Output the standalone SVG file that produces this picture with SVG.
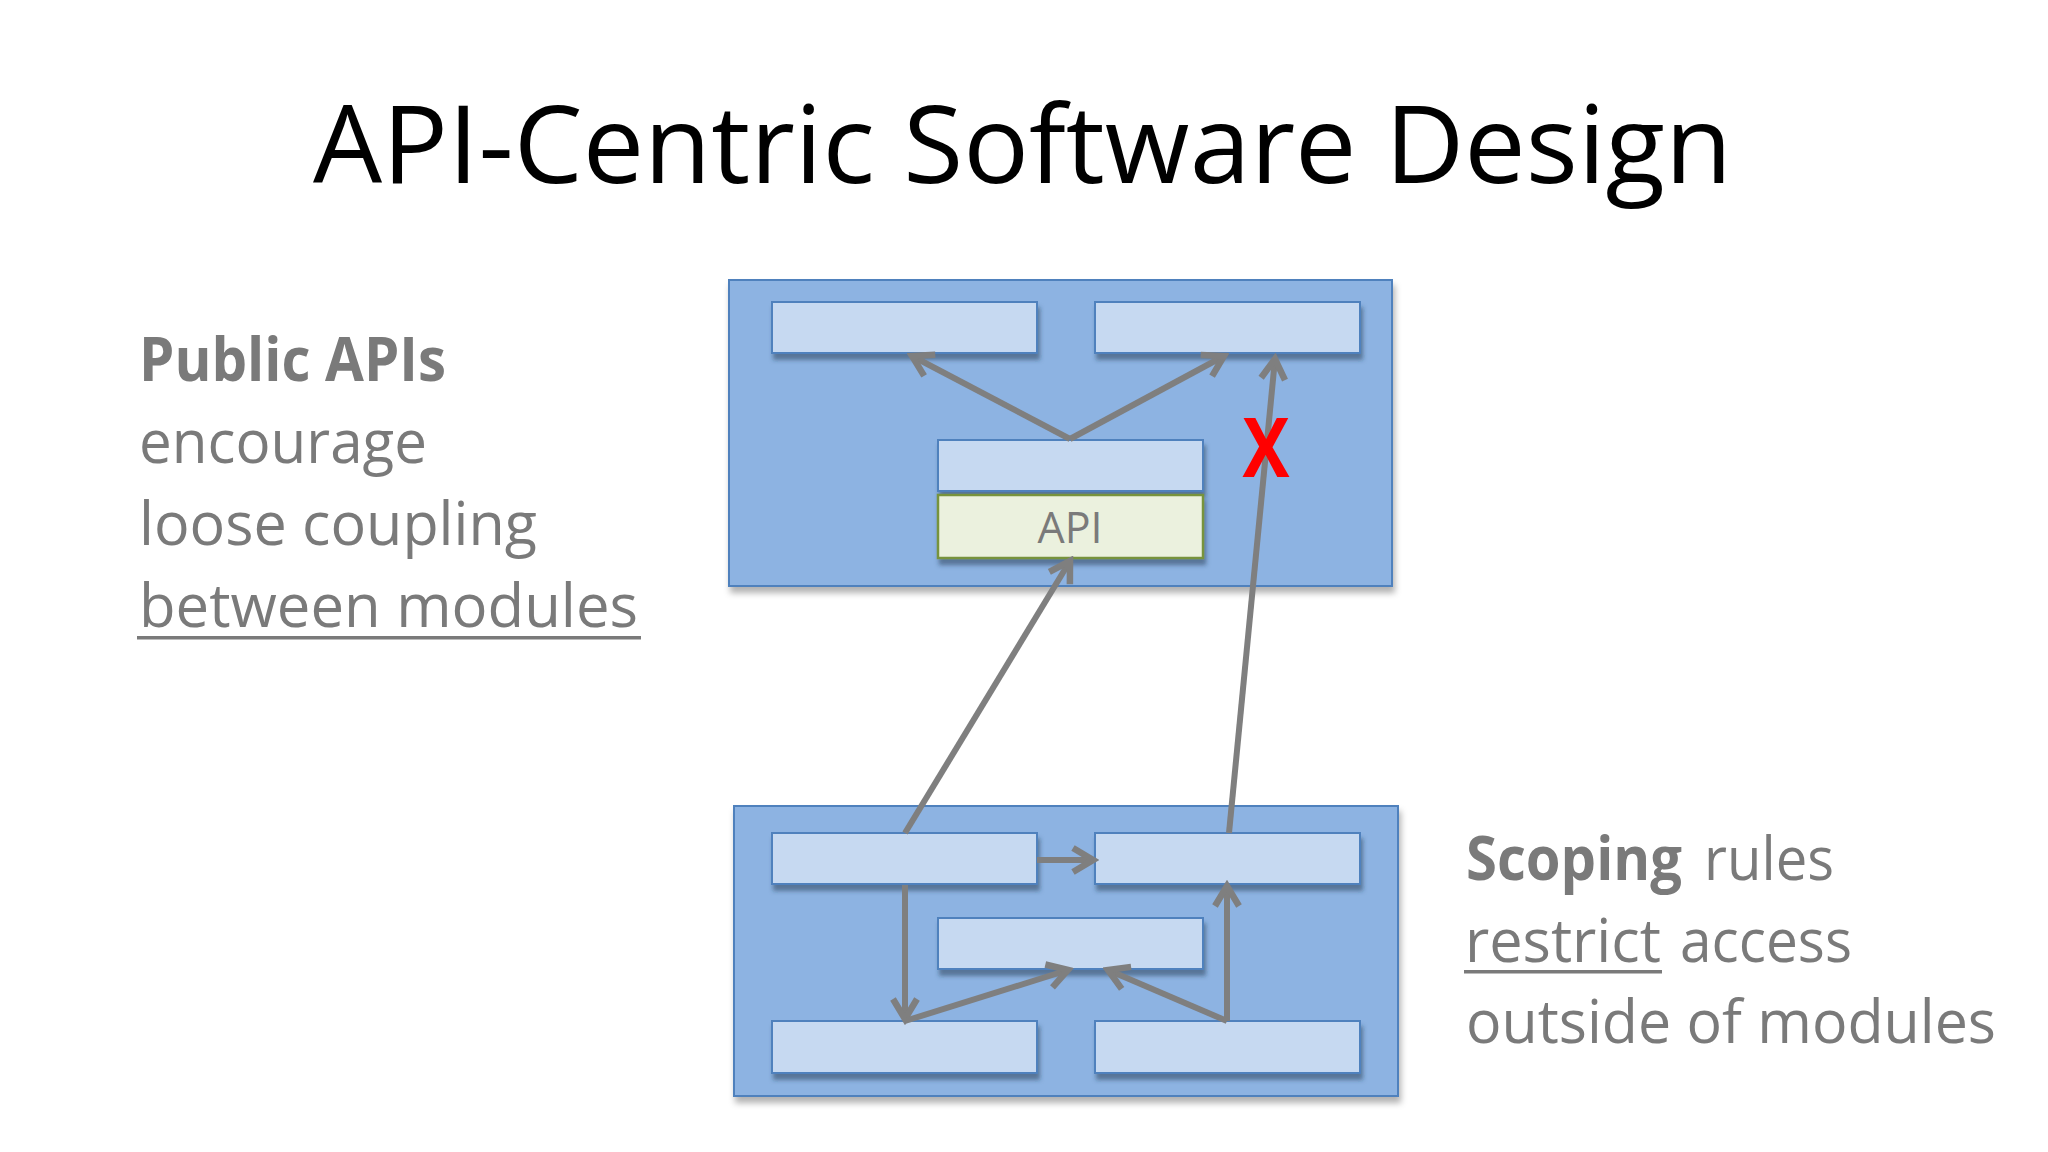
<svg xmlns="http://www.w3.org/2000/svg" width="2048" height="1152" viewBox="0 0 2048 1152">
  <defs>
    <filter id="sh" x="-10%" y="-20%" width="120%" height="150%">
      <feDropShadow dx="2" dy="6" stdDeviation="2" flood-color="#1f3550" flood-opacity="0.5"/>
    </filter>
    <filter id="shOuter" x="-5%" y="-5%" width="110%" height="110%">
      <feDropShadow dx="2" dy="6" stdDeviation="3" flood-color="#000" flood-opacity="0.3"/>
    </filter>
    <marker id="arr" viewBox="0 0 32 32" refX="26" refY="16" markerWidth="32" markerHeight="32" markerUnits="userSpaceOnUse" orient="auto">
      <path d="M6,4 L26,16 L6,28" fill="none" stroke="#7f7f7f" stroke-width="6.5" stroke-linejoin="miter"/>
    </marker>
  </defs>
  <style>
    .outer { fill: #8db3e2; stroke: #4f81bd; stroke-width: 2; }
    .inner { fill: #c6d9f1; stroke: #4f81bd; stroke-width: 2; }
    .api { fill: #ebf1de; stroke: #77933c; stroke-width: 2.5; }
    .conn { stroke: #7f7f7f; stroke-width: 6; fill: none; marker-end: url(#arr); }
    .txt { font-family: "Open Sans", "Liberation Sans", sans-serif; fill: #7a7a7a; font-size: 60px; }
    .b { font-weight: bold; }
  </style>
  <rect width="2048" height="1152" fill="#ffffff"/>

  <text x="313" y="183" font-family="'Open Sans', 'Liberation Sans', sans-serif" font-size="108" fill="#000" textLength="1419" lengthAdjust="spacingAndGlyphs">API-Centric Software Design</text>

  <g id="left-text">
    <text class="txt b" x="139" y="381" textLength="307" lengthAdjust="spacingAndGlyphs">Public APIs</text>
    <text class="txt" x="139" y="463" textLength="288" lengthAdjust="spacingAndGlyphs">encourage</text>
    <text class="txt" x="139" y="545" textLength="398" lengthAdjust="spacingAndGlyphs">loose coupling</text>
    <text class="txt" x="139" y="627" textLength="499" lengthAdjust="spacingAndGlyphs">between modules</text>
    <rect x="137" y="636" width="504" height="3.5" fill="#7a7a7a"/>
  </g>

  <g id="right-text">
    <text class="txt b" x="1466" y="880" textLength="216" lengthAdjust="spacingAndGlyphs">Scoping</text>
    <text class="txt" x="1704" y="880" textLength="130" lengthAdjust="spacingAndGlyphs">rules</text>
    <text class="txt" x="1465" y="962" textLength="196" lengthAdjust="spacingAndGlyphs">restrict</text>
    <text class="txt" x="1680" y="962" textLength="172" lengthAdjust="spacingAndGlyphs">access</text>
    <rect x="1464" y="970" width="198" height="3.5" fill="#7a7a7a"/>
    <text class="txt" x="1466" y="1043" textLength="530" lengthAdjust="spacingAndGlyphs">outside of modules</text>
  </g>

  <g id="module-top">
    <rect class="outer" x="729" y="280" width="663" height="306" filter="url(#shOuter)"/>
    <rect class="inner" x="772" y="302" width="265" height="51" filter="url(#sh)"/>
    <rect class="inner" x="1095" y="302" width="265" height="51" filter="url(#sh)"/>
    <rect class="inner" x="938" y="440" width="265" height="51" filter="url(#sh)"/>
    <g id="api-node">
      <rect class="api" x="938" y="495" width="265" height="63" filter="url(#sh)"/>
      <text x="1070" y="543" text-anchor="middle" font-family="'Open Sans', 'Liberation Sans', sans-serif" font-size="43" fill="#7a7a7a" textLength="65" lengthAdjust="spacingAndGlyphs">API</text>
    </g>
  </g>

  <g id="module-bottom">
    <rect class="outer" x="734" y="806" width="664" height="290" filter="url(#shOuter)"/>
    <rect class="inner" x="772" y="833" width="265" height="51" filter="url(#sh)"/>
    <rect class="inner" x="1095" y="833" width="265" height="51" filter="url(#sh)"/>
    <rect class="inner" x="938" y="918" width="265" height="51" filter="url(#sh)"/>
    <rect class="inner" x="772" y="1021" width="265" height="52" filter="url(#sh)"/>
    <rect class="inner" x="1095" y="1021" width="265" height="52" filter="url(#sh)"/>
  </g>

  <g id="connectors">
    <line class="conn" x1="1070" y1="439" x2="912" y2="356"/>
    <line class="conn" x1="1070" y1="439" x2="1224" y2="356"/>
    <line class="conn" x1="1229" y1="833" x2="1275" y2="359"/>
    <line class="conn" x1="905" y1="833" x2="1070" y2="561"/>
    <line class="conn" x1="1037" y1="860" x2="1093" y2="860"/>
    <line class="conn" x1="905" y1="885" x2="905" y2="1019"/>
    <line class="conn" x1="905" y1="1021" x2="1068" y2="970"/>
    <line class="conn" x1="1227" y1="1021" x2="1108" y2="970"/>
    <line class="conn" x1="1227" y1="1021" x2="1227" y2="886"/>
  </g>

  <text x="1266" y="477" text-anchor="middle" font-family="'Open Sans', 'Liberation Sans', sans-serif" font-weight="bold" font-size="83" fill="#ff0000" textLength="47" lengthAdjust="spacingAndGlyphs">X</text>
</svg>
